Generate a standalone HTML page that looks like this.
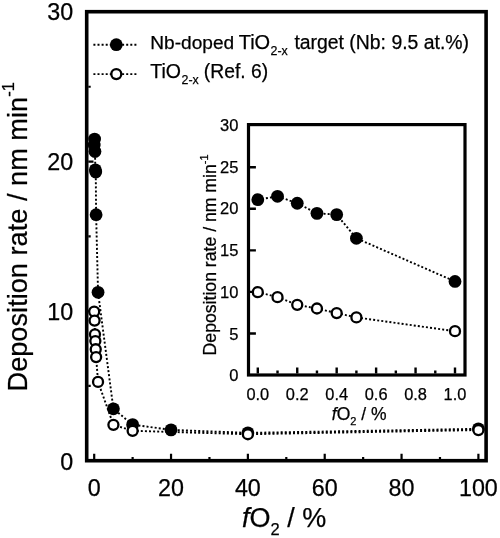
<!DOCTYPE html>
<html><head><meta charset="utf-8"><title>Deposition rate</title>
<style>
html,body{margin:0;padding:0;background:#fff}
svg{display:block}
text{font-family:"Liberation Sans",sans-serif;fill:#000;stroke:#000;stroke-width:.25px;stroke-linejoin:round}
.it{font-family:"Liberation Sans",sans-serif;font-style:italic}
.dot{fill:none;stroke:#000;stroke-width:1.9;stroke-dasharray:2 2.1}
.fm{fill:#000;stroke:none}
.om{fill:#fff;stroke:#000;stroke-width:2.3}
.ax{fill:none;stroke:#000}
</style></head><body>
<svg width="500" height="538" viewBox="0 0 500 538">
<rect width="500" height="538" fill="#fff"/>
<!-- main plot -->
<polyline class="dot" points="94.2,145.11 94.58,139.12 94.97,151.54 95.35,169.79 95.74,172.03 96.12,214.66 98.04,292.28 113.41,408.8 132.62,424.65 171.04,429.89"/>
<polyline class="dot" points="94.2,311.58 94.58,320.55 94.97,334.31 95.35,341.04 95.74,349.27 96.12,357.05 98.04,381.88 113.41,424.8 132.62,430.79"/>
<line class="dot" x1="132.62" y1="430.79" x2="247.88" y2="434.23" stroke-dasharray="2 2.1" stroke-dashoffset="0"/>
<line class="dot" x1="171.04" y1="429.89" x2="247.88" y2="432.88" stroke-dasharray="2 2.1" stroke-dashoffset="1.5"/>
<line class="dot" x1="247.88" y1="432.88" x2="478.4" y2="428.84" stroke-dasharray="2 2" stroke-dashoffset="0"/>
<line class="dot" x1="247.88" y1="434.23" x2="478.4" y2="430.04" stroke-dasharray="2 2" stroke-dashoffset="0"/>
<path class="ax" stroke-width="2.2" d="M94.2,459.2v-5.5M132.62,459.2v-2.2M171.04,459.2v-5.5M209.46,459.2v-2.2M247.88,459.2v-5.5M286.3,459.2v-2.2M324.72,459.2v-5.5M363.14,459.2v-2.2M401.56,459.2v-5.5M439.98,459.2v-2.2M478.4,459.2v-5.5M88.3,385.91h2.4M88.3,311.13h5.2M88.3,236.34h2.4M88.3,161.56h5.2M88.3,86.77h2.4"/>
<circle class="fm" cx="94.2" cy="145.11" r="6.4"/>
<circle class="fm" cx="94.58" cy="139.12" r="6.4"/>
<circle class="fm" cx="94.97" cy="151.54" r="6.4"/>
<circle class="fm" cx="95.35" cy="169.79" r="6.4"/>
<circle class="fm" cx="95.74" cy="172.03" r="6.4"/>
<circle class="fm" cx="96.12" cy="214.66" r="6.4"/>
<circle class="fm" cx="98.04" cy="292.28" r="6.4"/>
<circle class="fm" cx="113.41" cy="408.8" r="6.4"/>
<circle class="fm" cx="132.62" cy="424.65" r="6.4"/>
<circle class="fm" cx="171.04" cy="429.89" r="6.4"/>
<circle class="fm" cx="247.88" cy="432.88" r="6.4"/>
<circle class="fm" cx="478.4" cy="428.84" r="6.4"/>
<circle class="om" cx="94.2" cy="311.58" r="5"/>
<circle class="om" cx="94.58" cy="320.55" r="5"/>
<circle class="om" cx="94.97" cy="334.31" r="5"/>
<circle class="om" cx="95.35" cy="341.04" r="5"/>
<circle class="om" cx="95.74" cy="349.27" r="5"/>
<circle class="om" cx="96.12" cy="357.05" r="5"/>
<circle class="om" cx="98.04" cy="381.88" r="5"/>
<circle class="om" cx="113.41" cy="424.8" r="5"/>
<circle class="om" cx="132.62" cy="430.79" r="5"/>
<circle class="om" cx="247.88" cy="434.23" r="5"/>
<circle class="om" cx="478.4" cy="430.04" r="5"/>
<rect class="ax" stroke-width="3.6" x="86.7" y="11.7" width="399.4" height="449"/>
<text x="73.2" y="470.35" font-size="23.3" text-anchor="end">0</text>
<text x="73.2" y="320.05" font-size="23.3" text-anchor="end">10</text>
<text x="73.2" y="170.25" font-size="23.3" text-anchor="end">20</text>
<text x="73.2" y="19.7" font-size="23.3" text-anchor="end">30</text>
<text x="94.2" y="496" font-size="23.3" text-anchor="middle">0</text>
<text x="171.04" y="496" font-size="23.3" text-anchor="middle">20</text>
<text x="247.88" y="496" font-size="23.3" text-anchor="middle">40</text>
<text x="324.72" y="496" font-size="23.3" text-anchor="middle">60</text>
<text x="401.56" y="496" font-size="23.3" text-anchor="middle">80</text>
<text x="478.4" y="496" font-size="23.3" text-anchor="middle">100</text>
<text x="242" y="526.5" font-size="27"><tspan class="it">f</tspan>O<tspan font-size="16.5" dy="8.2">2</tspan><tspan dy="-8.2"> / %</tspan></text>
<text transform="translate(27.3,391.5) rotate(-90)" font-size="27.2">Deposition rate / nm min<tspan font-size="16.5" dy="-13">-1</tspan></text>
<path class="dot" d="M93.4,44.7H136.5M93.4,74.1H136.5"/>
<circle class="fm" cx="116.3" cy="44.7" r="6.4"/>
<circle class="om" cx="116.3" cy="74.1" r="5"/>
<text y="49.2" font-size="19.5"><tspan x="150.3" font-size="19.1">Nb-doped</tspan> <tspan x="238.7" font-size="20">TiO</tspan><tspan font-size="12.4" dx="0.4" dy="5.5">2-x</tspan><tspan dy="-5.5" x="289" font-size="19.4"> target (Nb: 9.5 at.%)</tspan></text>
<text y="78.2" font-size="19.5"><tspan x="150.2">TiO</tspan><tspan font-size="12.4" dx="0.6" dy="5.5">2-x</tspan><tspan dy="-5.5" x="198.5" font-size="19.3"> (Ref. 6)</tspan></text>
<!-- inset -->
<rect x="248.5" y="124.6" width="216.5" height="250.4" fill="#fff"/>
<polyline class="dot" points="257.8,199.66 277.52,196.33 297.24,203.23 316.96,213.37 336.68,214.62 356.4,238.3 455,281.43"/>
<polyline class="dot" points="257.8,292.15 277.52,297.14 297.24,304.78 316.96,308.52 336.68,313.09 356.4,317.41 455,331.21"/>
<path class="ax" stroke-width="2.4" d="M257.8,373.6v-6M277.52,373.6v-3M297.24,373.6v-6M316.96,373.6v-3M336.68,373.6v-6M356.4,373.6v-3M376.12,373.6v-6M395.84,373.6v-3M415.56,373.6v-6M435.28,373.6v-3M455,373.6v-6M249.9,333.45h6M249.9,291.9h6M249.9,250.35h6M249.9,208.8h6M249.9,167.25h6"/>
<circle class="fm" cx="257.8" cy="199.66" r="6.4"/>
<circle class="fm" cx="277.52" cy="196.33" r="6.4"/>
<circle class="fm" cx="297.24" cy="203.23" r="6.4"/>
<circle class="fm" cx="316.96" cy="213.37" r="6.4"/>
<circle class="fm" cx="336.68" cy="214.62" r="6.4"/>
<circle class="fm" cx="356.4" cy="238.3" r="6.4"/>
<circle class="fm" cx="455" cy="281.43" r="6.4"/>
<circle class="om" cx="257.8" cy="292.15" r="5"/>
<circle class="om" cx="277.52" cy="297.14" r="5"/>
<circle class="om" cx="297.24" cy="304.78" r="5"/>
<circle class="om" cx="316.96" cy="308.52" r="5"/>
<circle class="om" cx="336.68" cy="313.09" r="5"/>
<circle class="om" cx="356.4" cy="317.41" r="5"/>
<circle class="om" cx="455" cy="331.21" r="5"/>
<rect class="ax" stroke-width="3.2" x="248.5" y="124.6" width="216.5" height="250.4"/>
<text x="238.4" y="381.1" font-size="16.5" text-anchor="end">0</text>
<text x="238.4" y="339.55" font-size="16.5" text-anchor="end">5</text>
<text x="238.4" y="298" font-size="16.5" text-anchor="end">10</text>
<text x="238.4" y="256.15" font-size="16.5" text-anchor="end">15</text>
<text x="238.4" y="214.2" font-size="16.5" text-anchor="end">20</text>
<text x="238.4" y="172.65" font-size="16.5" text-anchor="end">25</text>
<text x="238.4" y="131.1" font-size="16.5" text-anchor="end">30</text>
<text x="257.8" y="400.1" font-size="16.4" text-anchor="middle">0.0</text>
<text x="297.24" y="400.1" font-size="16.4" text-anchor="middle">0.2</text>
<text x="336.68" y="400.1" font-size="16.4" text-anchor="middle">0.4</text>
<text x="376.12" y="400.1" font-size="16.4" text-anchor="middle">0.6</text>
<text x="415.56" y="400.1" font-size="16.4" text-anchor="middle">0.8</text>
<text x="455" y="400.1" font-size="16.4" text-anchor="middle">1.0</text>
<text x="331.8" y="420.1" font-size="17.5"><tspan class="it">f</tspan>O<tspan font-size="11" dy="5.3">2</tspan><tspan dy="-5.3"> / %</tspan></text>
<text transform="translate(216,355.4) rotate(-90)" font-size="17.65">Deposition rate / nm min<tspan font-size="11" dy="-8">-1</tspan></text>
</svg>
</body></html>
